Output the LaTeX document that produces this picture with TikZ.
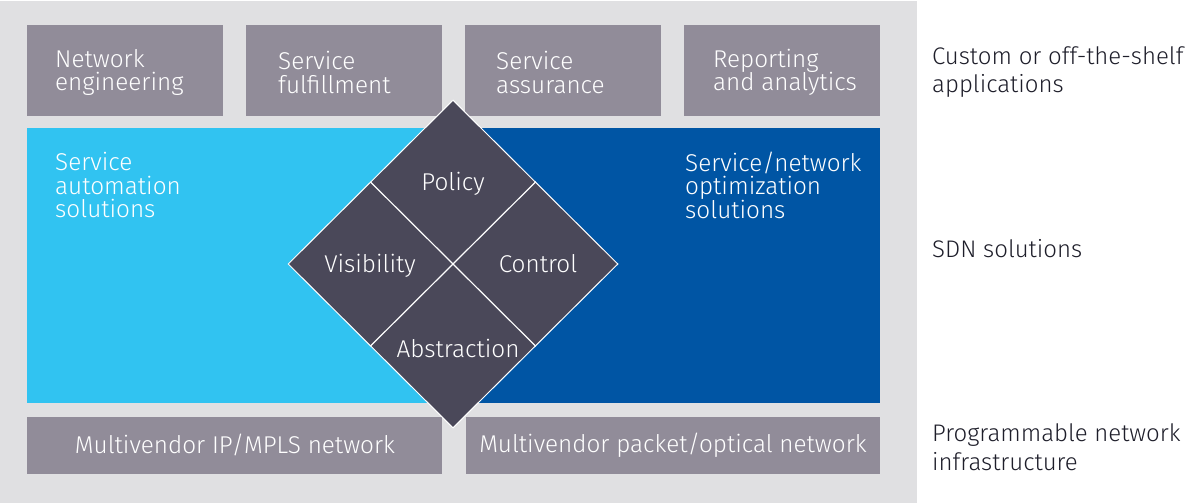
\documentclass[tikz,border=0pt]{standalone}
\usepackage{fontspec}
\setmainfont{Fira Sans}[UprightFont=* Light]
\usetikzlibrary{shapes.geometric,calc}
\definecolor{bgg}{HTML}{E0E0E2}
\definecolor{boxg}{HTML}{918C99}
\definecolor{lblue}{HTML}{31C3F1}
\definecolor{dblue}{HTML}{0055A4}
\definecolor{diam}{HTML}{4A4859}
\definecolor{lab}{HTML}{1E1E2A}
\tikzset{
  box/.style={fill=boxg, draw=none, inner sep=0pt, anchor=north west},
  wtxt/.style={text=white, font=\fontsize{24.3}{23.5}\selectfont, align=left, inner sep=0pt},
  rtxt/.style={text=lab, font=\fontsize{24}{28.5}\selectfont, align=left, inner sep=0pt, anchor=west},
  dtxt/.style={text=white, font=\fontsize{24.3}{24}\selectfont, inner sep=0pt},
}
\begin{document}
\begin{tikzpicture}[x=1pt,y=-1pt]
\useasboundingbox (0,0) rectangle (1200,503);
\fill[white] (0,0) rectangle (1200,503);
\fill[bgg] (0,1) rectangle (917,503);
% top boxes
\node[box, minimum width=196pt, minimum height=91pt] (b1) at (27,25) {};
\node[box, minimum width=196pt, minimum height=91pt] (b2) at (246,25) {};
\node[box, minimum width=196pt, minimum height=91pt] (b3) at (465,25) {};
\node[box, minimum width=196pt, minimum height=91pt] (b4) at (684,25) {};
\node[wtxt, anchor=west] (t1) at (55,72.5) {Network\\engineering};
\node[wtxt, anchor=west] (t2) at (278,72.5) {Service\\fulfillment};
\node[wtxt, anchor=west] (t3) at (496,72.5) {Service\\assurance};
\node[wtxt, anchor=west] (t4) at (713,72.5) {Reporting\\and analytics};
% blue regions
\node[box, fill=lblue, minimum width=426pt, minimum height=275pt] (lb) at (27,128) {};
\node[box, fill=dblue, minimum width=427pt, minimum height=275pt] (db) at (453,128) {};
\node[wtxt, anchor=west] (ls) at (55,185) {Service\\automation\\solutions};
\node[wtxt, anchor=west] (ds) at (685,185) {Service/network\\optimization\\solutions};
% bottom boxes
\node[box, minimum width=415pt, minimum height=57pt] (n1) at (27,417) {};
\node[box, minimum width=414pt, minimum height=57pt] (n2) at (466,417) {};
\node[wtxt] (nt1) at (235,445) {Multivendor IP/MPLS network};
\node[wtxt] (nt2) at (673,445) {Multivendor packet/optical network};
% diamond
\node[diamond, aspect=1, fill=diam, draw=white, line width=1pt, inner sep=0pt,
      minimum width=330pt, minimum height=328pt] (D) at (453,264) {};
\draw[white, line width=1.2pt] ($(D.north)!0.5!(D.west)$) -- ($(D.south)!0.5!(D.east)$);
\draw[white, line width=1.2pt] ($(D.north)!0.5!(D.east)$) -- ($(D.south)!0.5!(D.west)$);
\node[dtxt] (p) at (453,184) {Policy};
\node[dtxt] (v) at (370,266) {Visibility};
\node[dtxt] (c) at (538,264) {Control};
\node[dtxt] (a) at (458,348) {Abstraction};
% right labels
\node[rtxt] (r1) at (932,72) {Custom or off-the-shelf\\applications};
\node[rtxt] (r2) at (932,249) {SDN solutions};
\node[rtxt] (r3) at (932,447) {Programmable network\\infrastructure};
\end{tikzpicture}
\end{document}
